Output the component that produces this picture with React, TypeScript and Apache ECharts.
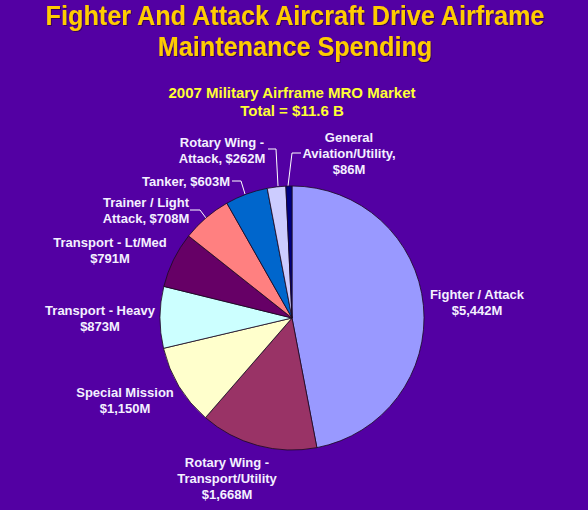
import React, { useEffect, useRef } from "react";
import * as echarts from "echarts";

const categories = [
  "Fighter / Attack",
  "Rotary Wing - Transport/Utility",
  "Special Mission",
  "Transport - Heavy",
  "Transport - Lt/Med",
  "Trainer / Light Attack",
  "Tanker",
  "Rotary Wing - Attack",
  "General Aviation/Utility",
];
// label prefixes with line breaks as shown in the chart
const labelPrefixes = [
  "Fighter / Attack\n",
  "Rotary Wing -\nTransport/Utility\n",
  "Special Mission\n",
  "Transport - Heavy\n",
  "Transport - Lt/Med\n",
  "Trainer / Light\nAttack, ",
  "Tanker, ",
  "Rotary Wing -\nAttack, ",
  "General\nAviation/Utility,\n",
];
const valuesM = [5442, 1668, 1150, 873, 791, 708, 603, 262, 86];
const colors = [
  "#9999FF",
  "#993366",
  "#FFFFCC",
  "#CCFFFF",
  "#660066",
  "#FF8080",
  "#0066CC",
  "#CCCCFF",
  "#000080",
];
const titleLines = ["Fighter And Attack Aircraft Drive Airframe", "Maintenance Spending"];
const subtitleLines = ["2007 Military Airframe MRO Market", "Total = $11.6 B"];

// label placement (layout, not data)
const labelPos: [number, number][] = [
  [477, 302],
  [227, 478],
  [125, 400],
  [100, 318],
  [110, 250],
  [146, 210],
  [186, 181],
  [222, 150],
  [349, 153],
];
const labelLines: ([number, number][] | null)[] = [
  null,
  null,
  null,
  null,
  null,
  [[190, 210], [200, 210], [206, 218]],
  [[232, 181], [241, 181], [245, 194]],
  [[268, 149], [276, 149], [278, 186]],
  [[301, 153], [292, 153], [288, 186]],
];

function fmt(v: number) {
  return "$" + String(v).replace(/\B(?=(\d{3})+(?!\d))/g, ",") + "M";
}

const FONT = "'Liberation Sans', Arial, Helvetica, sans-serif";

export default function App() {
  const ref = useRef<HTMLDivElement>(null);
  useEffect(() => {
    if (!ref.current) return;
    const chart = echarts.init(ref.current, undefined, { renderer: "svg" });
    const titleGraphics: any[] = titleLines.map((t, i) => ({
      type: "text",
      x: 295,
      y: 15.5 + i * 31,
      scaleX: 0.9,
      silent: true,
      style: {
        text: t,
        font: `bold 28px ${FONT}`,
        fill: "#FFCC00",
        textAlign: "center",
        textVerticalAlign: "middle",
        textShadowColor: "rgba(40,0,40,0.6)",
        textShadowOffsetX: 1,
        textShadowOffsetY: 1,
        textShadowBlur: 1,
      },
    }));
    const subGraphics: any[] = subtitleLines.map((t, i) => ({
      type: "text",
      x: 292,
      y: 92 + i * 18,
      silent: true,
      style: {
        text: t,
        font: `bold 15px ${FONT}`,
        fill: "#FFFF33",
        textAlign: "center",
        textVerticalAlign: "middle",
      },
    }));
    chart.setOption({
      animation: false,
      backgroundColor: "#5300A3",
      graphic: [...titleGraphics, ...subGraphics],
      series: [
        {
          type: "pie",
          center: [292, 318],
          radius: 132,
          startAngle: 90,
          clockwise: true,
          silent: true,
          avoidLabelOverlap: false,
          itemStyle: { borderColor: "#1a0a20", borderWidth: 0.8 },
          label: {
            show: true,
            position: "outside",
            color: "#F4F0FF",
            fontFamily: FONT,
            fontWeight: "bold",
            fontSize: 13,
            lineHeight: 16,
            align: "center",
            formatter: (p: any) => labelPrefixes[p.dataIndex] + fmt(p.value),
          },
          labelLine: { show: true, lineStyle: { color: "#FFFFFF", width: 1 } },
          labelLayout: (p: any) => {
            const i = p.dataIndex;
            const res: any = {
              x: labelPos[i][0],
              y: labelPos[i][1],
              align: "center",
              verticalAlign: "middle",
            };
            if (labelLines[i]) res.labelLinePoints = labelLines[i];
            return res;
          },
          data: categories.map((c, i) => ({
            name: c,
            value: valuesM[i],
            itemStyle: { color: colors[i] },
            labelLine: { show: !!labelLines[i] },
          })),
        },
      ],
    });
    return () => chart.dispose();
  }, []);
  return <div ref={ref} style={{ width: 588, height: 510, position: "absolute", left: 0, top: 0 }} />;
}
